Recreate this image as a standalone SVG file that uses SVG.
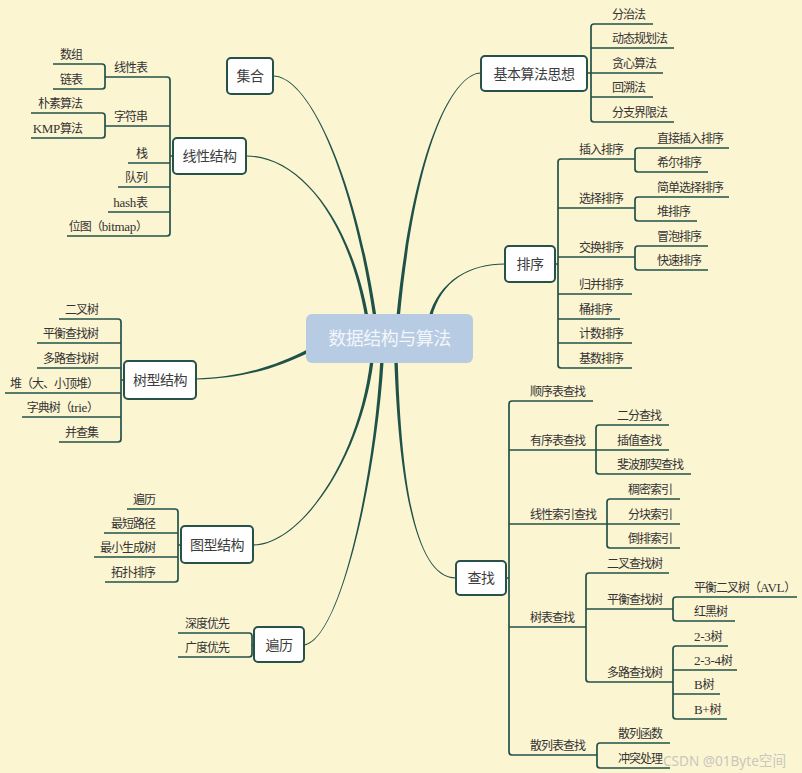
<svg xmlns="http://www.w3.org/2000/svg" width="802" height="773" viewBox="0 0 802 773">
<style>
.bg{fill:#FCF5D2}
.conn{fill:#1F5248}
.br{fill:none;stroke:#22524A;stroke-width:1.7}
.box{fill:#FFFFFF;stroke:#27524B;stroke-width:2}
.nt{font-family:"Noto Sans CJK SC","Noto Sans",sans-serif;font-size:14px;fill:#3D3D3D;text-anchor:middle;letter-spacing:-0.5px}
.ct{font-family:"Noto Sans CJK SC","Noto Sans",sans-serif;font-size:18px;fill:#F3F6FA;text-anchor:middle;letter-spacing:-0.5px}
.lt{font-family:"Liberation Serif","Noto Sans CJK SC",serif;font-size:12px;fill:#333333;letter-spacing:-1px}
.la{font-size:13px;letter-spacing:-0.3px}
.e{text-anchor:end}
.wm{font-family:"Noto Sans","DejaVu Sans","Noto Sans CJK SC",sans-serif;font-size:15px;fill:#C9C7BE}
</style>
<rect class="bg" x="0" y="0" width="802" height="773"/>

<g id="connectors">
  <path class="conn" d="M273,75.4 C310,75.4 356.2,180 376.7,318 L373.3,318 C353.8,180 310,76.6 273,76.6 Z"/>
  <path class="conn" d="M246,155.4 C300,155.4 351.2,220 368.7,318 L365.3,318 C348.8,220 300,156.6 246,156.6 Z"/>
  <path class="conn" d="M481,72.4 C455,72.4 413.8,140 396.3,318 L399.7,318 C416.2,140 455,73.6 481,73.6 Z"/>
  <path class="conn" d="M505,263.4 C470,263.4 438.8,280 428.3,318 L431.7,318 C441.2,280 470,264.6 505,264.6 Z"/>
  <path class="conn" d="M196,379.6 C240,378.6 275.5,369.5 310.8,351.5 L309.2,348.5 C274.5,366.5 240,377.4 196,378.4 Z"/>
  <path class="conn" d="M253,545.6 C300,545.6 361.2,460 373.7,360 L370.3,360 C358.8,460 300,544.4 253,544.4 Z"/>
  <path class="conn" d="M304,645.6 C340,640.6 376.2,480 383.7,360 L380.3,360 C373.8,480 340,639.4 304,644.4 Z"/>
  <path class="conn" d="M456,578.6 C415,578.6 398.8,480 394.3,360 L397.7,360 C401.2,480 415,577.4 456,577.4 Z"/>

  <path class="br" d="M105,77 H167 Q170,77 170,80 V233 Q170,236 167,236 H67 M105,126 H170 M128,163 H170 M118,187 H170 M108,212 H170 M170,156 H173"/>
  <path class="br" d="M53,64 H102 Q105,64 105,67 V86 Q105,89 102,89 H53"/>
  <path class="br" d="M31,113 H102 Q105,113 105,116 V135 Q105,138 102,138 H31"/>
  <path class="br" d="M653,24 H594 Q591,24 591,27 V119 Q591,122 594,122 H674 M591,48 H674 M591,73 H663 M591,97 H653 M587,73 H591"/>
  <path class="br" d="M635,159 H561 Q558,159 558,162 V365 Q558,368 561,368 H632 M558,208 H635 M558,257 H635 M558,294 H632 M558,319 H620 M558,343 H632 M555,264 H558"/>
  <path class="br" d="M729,148 H638 Q635,148 635,151 V169 Q635,172 638,172 H708"/>
  <path class="br" d="M729,197 H638 Q635,197 635,200 V218 Q635,221 638,221 H697"/>
  <path class="br" d="M708,246 H638 Q635,246 635,249 V267 Q635,270 638,270 H708"/>
  <path class="br" d="M59,319 H118 Q121,319 121,322 V439 Q121,442 118,442 H59 M37,343 H121 M37,368 H121 M5,393 H121 M22,417 H121 M121,380 H124"/>
  <path class="br" d="M127,509 H175 Q178,509 178,512 V579 Q178,582 175,582 H105 M104,533 H178 M94,557 H178 M178,545 H181"/>
  <path class="br" d="M178,633 H249 Q252,633 252,636 V654 Q252,657 249,657 H178 M252,645 H254"/>
  <path class="br" d="M593,401 H512 Q509,401 509,404 V752 Q509,755 512,755 H597 M509,450 H596 M509,524 H607 M509,627 H586 M506,578 H509"/>
  <path class="br" d="M669,425 H599 Q596,425 596,428 V471 Q596,474 599,474 H691 M596,450 H669"/>
  <path class="br" d="M680,499 H610 Q607,499 607,502 V545 Q607,548 610,548 H680 M607,524 H680"/>
  <path class="br" d="M669,573 H589 Q586,573 586,576 V679 Q586,682 589,682 H673 M586,609 H673"/>
  <path class="br" d="M797,597 H676 Q673,597 673,600 V618 Q673,621 676,621 H735"/>
  <path class="br" d="M728,646 H676 Q673,646 673,649 V716 Q673,719 676,719 H727 M673,670 H737 M673,694 H720"/>
  <path class="br" d="M670,743 H600 Q597,743 597,746 V765 Q597,768 600,768 H670"/>
</g>

<g id="root"><rect x="306" y="314" width="167" height="49" rx="6" fill="#B7CBE3"/><text class="ct" x="389.5" y="345">数据结构与算法</text></g>

<g id="n-jihe"><rect class="box" x="227" y="58" width="46" height="36" rx="4"/><text class="nt" x="250" y="81">集合</text></g>
<g id="n-xianxing"><rect class="box" x="173" y="138" width="73" height="36" rx="4"/><text class="nt" x="209.5" y="161">线性结构</text></g>
<g id="n-jiben"><rect class="box" x="481" y="56" width="106" height="35" rx="4"/><text class="nt" x="534" y="78.5">基本算法思想</text></g>
<g id="n-paixu"><rect class="box" x="505" y="246" width="50" height="36" rx="4"/><text class="nt" x="530" y="269">排序</text></g>
<g id="n-shuxing"><rect class="box" x="124" y="361" width="72" height="38" rx="4"/><text class="nt" x="160" y="385">树型结构</text></g>
<g id="n-tuxing"><rect class="box" x="181" y="526" width="72" height="37" rx="4"/><text class="nt" x="217" y="549.5">图型结构</text></g>
<g id="n-bianli"><rect class="box" x="254" y="627" width="50" height="35" rx="4"/><text class="nt" x="279" y="649.5">遍历</text></g>
<g id="n-chazhao"><rect class="box" x="456" y="561" width="50" height="34" rx="4"/><text class="nt" x="481" y="583">查找</text></g>

<g id="l-xianxing">
  <text class="lt e" x="147" y="72">线性表</text>
  <text class="lt e" x="82" y="59">数组</text>
  <text class="lt e" x="82" y="84">链表</text>
  <text class="lt e" x="147" y="121">字符串</text>
  <text class="lt e" x="82" y="108">朴素算法</text>
  <text class="lt e" x="82" y="133"><tspan class="la">KMP</tspan>算法</text>
  <text class="lt e" x="147" y="158">栈</text>
  <text class="lt e" x="147" y="182">队列</text>
  <text class="lt e" x="147" y="207"><tspan class="la">hash</tspan>表</text>
  <text class="lt e" x="147" y="231">位图（<tspan class="la">bitmap</tspan>）</text>
</g>
<g id="l-jiben">
  <text class="lt" x="612" y="19">分治法</text>
  <text class="lt" x="612" y="43">动态规划法</text>
  <text class="lt" x="612" y="68">贪心算法</text>
  <text class="lt" x="612" y="92">回溯法</text>
  <text class="lt" x="612" y="117">分支界限法</text>
</g>
<g id="l-paixu">
  <text class="lt" x="579" y="154">插入排序</text>
  <text class="lt" x="579" y="203">选择排序</text>
  <text class="lt" x="579" y="252">交换排序</text>
  <text class="lt" x="579" y="289">归并排序</text>
  <text class="lt" x="579" y="314">桶排序</text>
  <text class="lt" x="579" y="338">计数排序</text>
  <text class="lt" x="579" y="363">基数排序</text>
  <text class="lt" x="657" y="143">直接插入排序</text>
  <text class="lt" x="657" y="167">希尔排序</text>
  <text class="lt" x="657" y="192">简单选择排序</text>
  <text class="lt" x="657" y="216">堆排序</text>
  <text class="lt" x="657" y="241">冒泡排序</text>
  <text class="lt" x="657" y="265">快速排序</text>
</g>
<g id="l-shuxing">
  <text class="lt e" x="98" y="314">二叉树</text>
  <text class="lt e" x="98" y="338">平衡查找树</text>
  <text class="lt e" x="98" y="363">多路查找树</text>
  <text class="lt e" x="98" y="388">堆（大、小顶堆）</text>
  <text class="lt e" x="98" y="412">字典树（<tspan class="la">trie</tspan>）</text>
  <text class="lt e" x="98" y="437">并查集</text>
</g>
<g id="l-tuxing">
  <text class="lt e" x="155" y="504">遍历</text>
  <text class="lt e" x="155" y="528">最短路径</text>
  <text class="lt e" x="155" y="552">最小生成树</text>
  <text class="lt e" x="155" y="577">拓扑排序</text>
</g>
<g id="l-bianli">
  <text class="lt e" x="229" y="628">深度优先</text>
  <text class="lt e" x="229" y="652">广度优先</text>
</g>
<g id="l-chazhao">
  <text class="lt" x="530" y="396">顺序表查找</text>
  <text class="lt" x="530" y="445">有序表查找</text>
  <text class="lt" x="530" y="519">线性索引查找</text>
  <text class="lt" x="530" y="622">树表查找</text>
  <text class="lt" x="530" y="750">散列表查找</text>
  <text class="lt" x="617" y="420">二分查找</text>
  <text class="lt" x="617" y="445">插值查找</text>
  <text class="lt" x="617" y="469">斐波那契查找</text>
  <text class="lt" x="628" y="494">稠密索引</text>
  <text class="lt" x="628" y="519">分块索引</text>
  <text class="lt" x="628" y="543">倒排索引</text>
  <text class="lt" x="607" y="568">二叉查找树</text>
  <text class="lt" x="607" y="604">平衡查找树</text>
  <text class="lt" x="607" y="677">多路查找树</text>
  <text class="lt" x="694" y="592">平衡二叉树（<tspan class="la">AVL</tspan>）</text>
  <text class="lt" x="694" y="616">红黑树</text>
  <text class="lt" x="694" y="641"><tspan class="la">2-3</tspan>树</text>
  <text class="lt" x="694" y="665"><tspan class="la">2-3-4</tspan>树</text>
  <text class="lt" x="694" y="689"><tspan class="la">B</tspan>树</text>
  <text class="lt" x="694" y="714"><tspan class="la">B+</tspan>树</text>
  <text class="lt" x="618" y="738">散列函数</text>
  <text class="lt" x="618" y="763">冲突处理</text>
</g>
<text class="wm" x="663" y="766" textLength="123" lengthAdjust="spacingAndGlyphs">CSDN @01Byte空间</text>
</svg>
